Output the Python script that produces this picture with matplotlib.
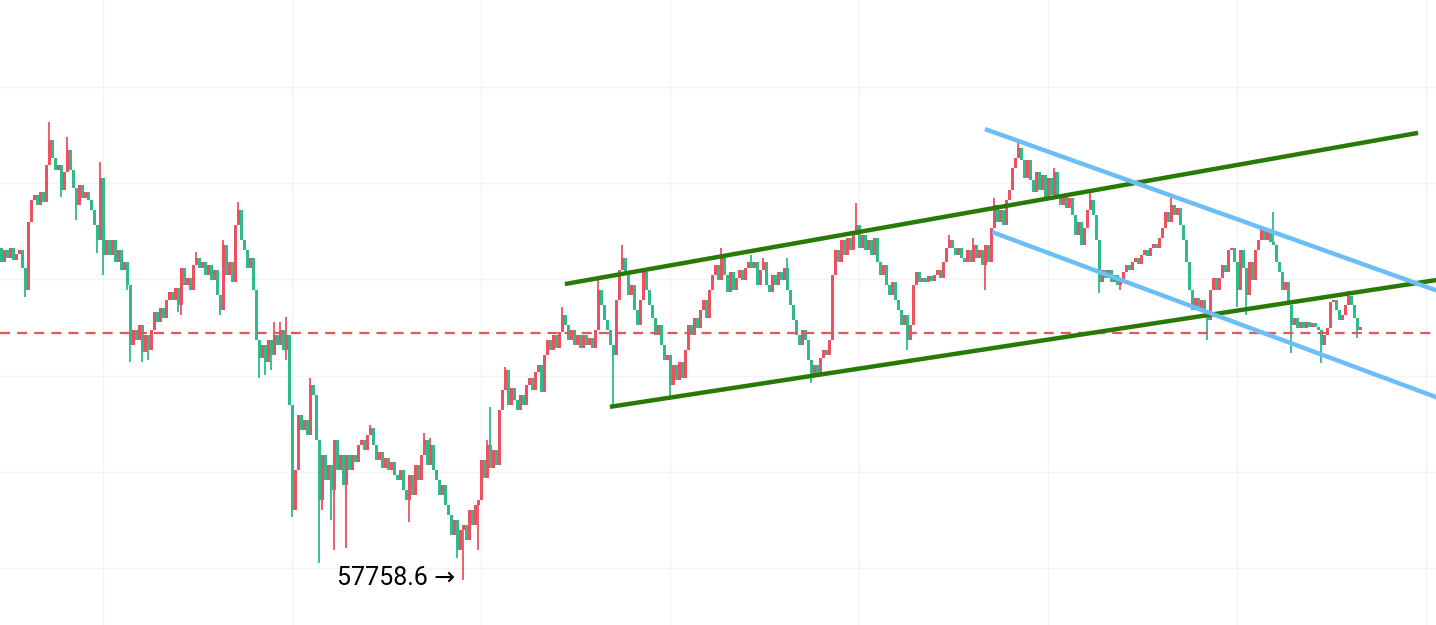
import matplotlib
matplotlib.use("Agg")
import matplotlib.pyplot as plt
import numpy as np

# one close per candle, each candle opens at the previous close
first_open = 64650
closes = [
    64360, 64610, 64440, 64650, 64400, 64520, 64610, 64230, 63780, 65190,
    65650, 65750, 65540, 65810, 65600, 66370, 66890, 66520, 66270, 66370,
    65850, 66230, 66680, 66270, 65900, 65540, 65960, 65690, 65810, 65650,
    65440, 65130, 64820, 66100, 64500, 64820, 64500, 64820, 64360, 64610,
    64190, 64360, 63880, 62630, 62950, 62740, 63050, 62490, 62840, 62530,
    62950, 63320, 63110, 63400, 63190, 63570, 63740, 63570, 63820, 63470,
    64230, 63880, 64030, 63780, 64300, 64440, 64230, 64360, 64090, 64300,
    63980, 64190, 63670, 63360, 64710, 64090, 64360, 63940, 65130, 65440,
    64820, 64610, 64230, 64440, 63780, 62740, 62360, 62630, 62280, 62740,
    62430, 62840, 62630, 62950, 62530, 62840, 61390, 59210, 60040, 61180,
    60870, 61080, 60770, 61800, 61600, 60660, 59420, 60350, 59830, 60140,
    59620, 60660, 60040, 60350, 59730, 60350, 60040, 60350, 60200, 60560,
    60660, 60450, 60770, 60910, 60560, 60250, 60410, 60080, 60290, 60040,
    60200, 59930, 59830, 60040, 59620, 59420, 59930, 59520, 60140, 59830,
    60350, 60660, 60140, 60560, 60040, 59830, 59520, 59730, 59310, 59100,
    58690, 59000, 58380, 58790, 58900, 58580, 59210, 58900, 59310, 59420,
    60250, 59870, 60560, 60080, 60450, 60140, 61280, 61700, 62120, 61390,
    61740, 61490, 61280, 61600, 61390, 61800, 61950, 61700, 62070, 62220,
    61660, 62430, 62740, 62530, 62840, 62570, 62900, 63260, 63050, 62740,
    62950, 62630, 62840, 62570, 62840, 62630, 62780, 62570, 62950, 63780,
    63470, 63150, 62950, 62630, 62430, 63570, 64190, 64440, 64090, 63670,
    63880, 63360, 63050, 63570, 64150, 63780, 63470, 63190, 62840, 63050,
    62630, 62320, 62430, 61800, 62220, 61910, 62280, 61950, 62530, 63050,
    62840, 63190, 62990, 63360, 63570, 63190, 63780, 64090, 64300, 63980,
    64440, 64090, 63740, 64150, 63780, 64030, 64190, 63980, 64230, 64360,
    64230, 64360, 63880, 64190, 64360, 63880, 63740, 64090, 63880, 64150,
    63980, 64230, 63780, 63470, 63150, 62840, 62630, 62950, 62740, 62320,
    62010, 62220, 62010, 62360, 62530, 62430, 62740, 64090, 64610, 64360,
    64820, 64500, 64860, 64610, 64920, 65130, 64650, 64920, 64610, 64820,
    64500, 64860, 64360, 64090, 64300, 63880, 63670, 63940, 63570, 63360,
    63050, 63260, 62740, 63050, 63880, 64150, 63940, 64030, 63940, 64070,
    63960, 64090, 64190, 64030, 64360, 64650, 64820, 64650, 64500, 64650,
    64440, 64360, 64610, 64360, 64710, 64440, 64610, 64300, 64710, 64360,
    65060, 65540, 65190, 65440, 65130, 65650, 65850, 66310, 66520, 66730,
    66480, 66100, 66480, 66060, 65810, 66230, 65850, 66170, 65690, 66100,
    65750, 66230, 65690, 65540, 65750, 65480, 65690, 65330, 64920, 65190,
    64710, 65060, 65440, 65650, 65330, 64820, 63940, 64190, 64030, 64190,
    63940, 64090, 63880, 63980, 64150, 64300, 64190, 64360, 64440, 64320,
    64500, 64610, 64480, 64650, 64730, 64650, 64860, 65060, 65400, 65190,
    65540, 65330, 65480, 65130, 64820, 64360, 63780, 63360, 63610, 63360,
    63570, 63320, 63150, 63780, 64030, 63780, 64030, 64300, 64150, 64610,
    64650, 64360, 63780, 64610, 64230, 63670, 64360, 63980, 64610, 64820,
    65020, 64820, 64980, 64770, 64710, 64360, 64150, 63780, 63940, 63470,
    63050, 63190, 62990, 63110, 62990, 63110, 63010, 63090, 63010, 62950,
    62630, 62840, 62990, 63530, 63570, 63360, 63150, 63260, 63470, 63650,
    63470, 63190, 62950, 63010,
]
# wicks that go past the body (candle index -> price)
wick_high = {16: 67270, 22: 66950, 33: 66440, 65: 64570, 74: 64820, 79: 65600,
             91: 63110, 93: 63110, 95: 63220, 103: 61950, 123: 60970, 141: 60810,
             143: 60700, 162: 60660, 163: 61350, 168: 62180, 187: 63420, 199: 63980,
             207: 64710, 214: 64190, 240: 64650, 250: 64500, 254: 64440, 262: 64440,
             285: 65580, 316: 64920, 324: 64860, 331: 65690, 339: 66850, 351: 66310,
             363: 65790, 390: 65710, 420: 65090, 424: 65400, 449: 63760}
wick_low = {8: 63630, 20: 65710, 25: 65230, 32: 64550, 34: 64090, 42: 63780,
            43: 62280, 47: 62280, 49: 62320, 59: 63320, 60: 63260, 73: 63260,
            86: 61950, 88: 62010, 90: 62120, 95: 62320, 97: 59060, 106: 58110,
            107: 59210, 110: 59000, 111: 58380, 115: 58420, 136: 58960, 152: 58210,
            154: 57758.6, 159: 58380, 204: 61390, 223: 61550, 270: 61850, 302: 62530,
            328: 63780, 366: 63710, 373: 63780, 402: 62740, 412: 63420, 415: 63260,
            430: 62470, 440: 62260, 452: 62780}

last_price = 62880
low_index = 154
low_price = 57758.6
low_label = "57758.6 →"

# trend lines: (index, price) pairs
green_lines = [((187.8, 63900), (472.2, 67040)),
               ((202.8, 61350), (480.0, 64000))]
blue_lines = [((327.8, 67120), (480.0, 63730)),
              ((330.2, 64980), (480.0, 61510))]

up_col = "#ef5060"
down_col = "#2ebb8c"

closes = np.array(closes, dtype=float)
opens = np.concatenate([[first_open], closes[:-1]])
n = len(closes)
idx = np.arange(n)
highs = np.maximum(opens, closes)
lows = np.minimum(opens, closes)
for k, v in wick_high.items():
    highs[k] = max(highs[k], v)
for k, v in wick_low.items():
    lows[k] = min(lows[k], v)
cols = [up_col if c >= o else down_col for o, c in zip(opens, closes)]

fig = plt.figure(figsize=(14.36, 6.25), dpi=100)
ax = fig.add_axes([0, 0, 1, 1])

ax.vlines(idx, lows, highs, colors=cols, linewidth=1.3, zorder=2)
body = np.maximum(np.abs(closes - opens), 25)
ax.bar(idx, body, bottom=np.minimum(opens, closes), width=0.9,
       color=cols, linewidth=0, zorder=3)

ax.axhline(last_price, color=up_col, linewidth=1.6, dashes=(4.5, 3.2), zorder=4)

for (x0, y0), (x1, y1) in green_lines:
    ax.plot([x0, x1], [y0, y1], color="#287a06", linewidth=3.2,
            solid_capstyle="butt", zorder=5)
for (x0, y0), (x1, y1) in blue_lines:
    ax.plot([x0, x1], [y0, y1], color="#6cbef9", linewidth=3.2,
            solid_capstyle="butt", zorder=6)

ax.text(low_index - 2.9, low_price + 30, low_label, ha="right", va="center",
        fontsize=18, family=["Roboto", "DejaVu Sans"], color="black", zorder=7)

ax.set_xlim(-0.5, 478.17)
ax.set_ylim(56819, 69800)
ax.set_yticks(np.arange(58000, 69000, 2000))
ax.set_xticks(np.arange(33.8, 478, 63))
ax.grid(True, color="#f2f3f6", linewidth=1.0, zorder=0)
ax.set_axisbelow(True)
ax.tick_params(length=0, labelleft=False, labelbottom=False)
for s in ax.spines.values():
    s.set_visible(False)

fig.savefig("out.png", dpi=100)
